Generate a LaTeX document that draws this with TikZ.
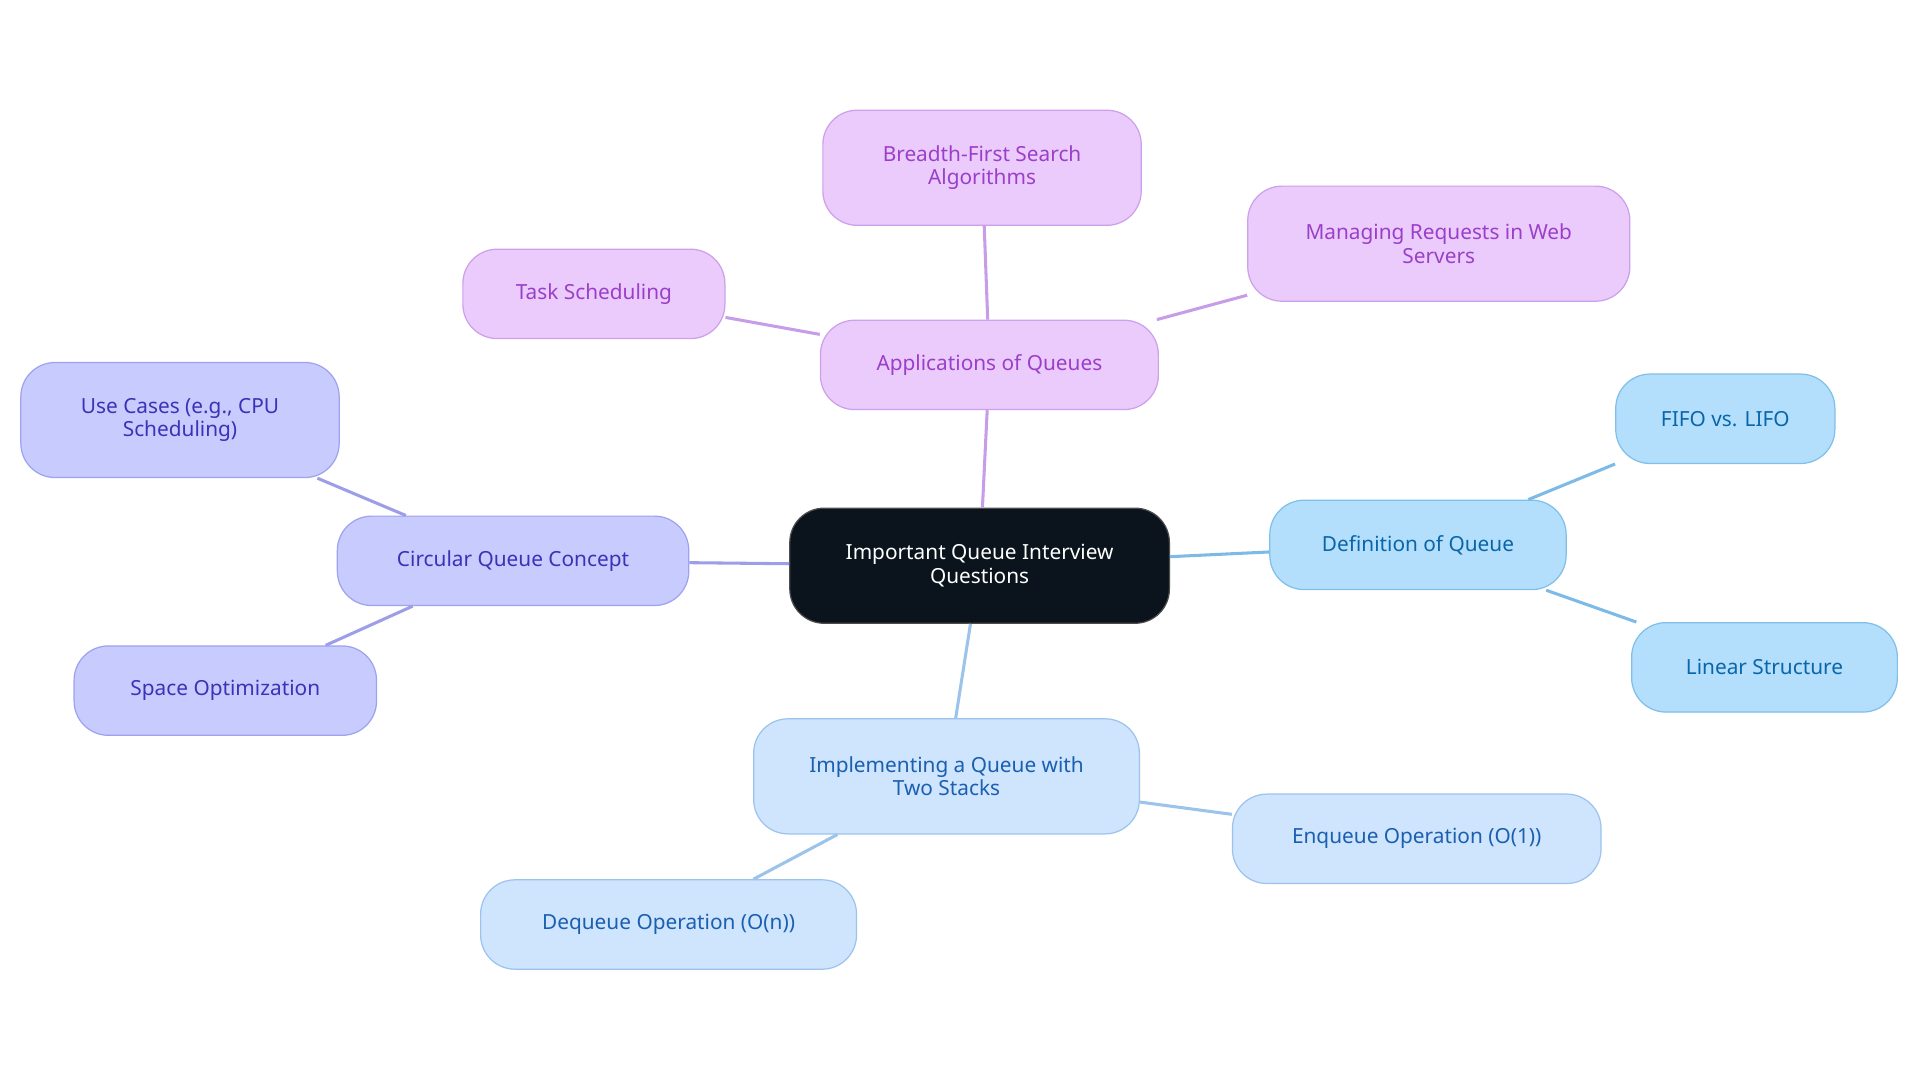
\documentclass[tikz,border=0pt]{standalone}
\usepackage{fontspec}
\setmainfont{Noto Sans}
\begin{document}
\begin{tikzpicture}[x=1pt,y=-1pt,
 b/.style={draw,line width=1pt,rounded corners=28pt,align=center,inner sep=0pt,font=\fontsize{17}{19}\selectfont},
 cen/.style={b,draw=black!70,text=white,fill={rgb,255:red,11;green,20;blue,28}},
 pu/.style={b,fill={rgb,255:red,234;green,203;blue,252},draw={rgb,255:red,204;green,160;blue,234},text={rgb,255:red,155;green,63;blue,201}},
 ind/.style={b,fill={rgb,255:red,200;green,203;blue,253},draw={rgb,255:red,158;green,163;blue,238},text={rgb,255:red,58;green,50;blue,184}},
 bl/.style={b,fill={rgb,255:red,179;green,223;blue,252},draw={rgb,255:red,127;green,191;blue,232},text={rgb,255:red,10;green,102;blue,168}},
 lb/.style={b,fill={rgb,255:red,207;green,228;blue,253},draw={rgb,255:red,156;green,195;blue,238},text={rgb,255:red,26;green,95;blue,176}},
 l/.style={line width=2.5pt}]
\useasboundingbox (0,0) rectangle (1568,884.5);
\tikzset{puc/.style={l,draw={rgb,255:red,199;green,157;blue,232}},
 inc/.style={l,draw={rgb,255:red,158;green,158;blue,232}},
 blc/.style={l,draw={rgb,255:red,125;green,187;blue,230}},
 lbc/.style={l,draw={rgb,255:red,156;green,195;blue,234}}}
\node[cen,minimum width=310pt,minimum height=94pt] (c) at (800,462) {Important Queue Interview\\Questions};
\node[pu,minimum width=276pt,minimum height=73pt] (app) at (808,298) {Applications of Queues};
\node[pu,minimum width=260pt,minimum height=94pt] (bfs) at (802,137) {Breadth-First Search\\Algorithms};
\node[pu,minimum width=312pt,minimum height=94pt] (web) at (1175,199) {Managing Requests in Web\\Servers};
\node[pu,minimum width=214pt,minimum height=73pt] (task) at (485,240) {Task Scheduling};
\node[ind,minimum width=287pt,minimum height=73pt] (circ) at (419,458) {Circular Queue Concept};
\node[ind,minimum width=260pt,minimum height=94pt] (use) at (147,343) {Use Cases (e.g., CPU\\Scheduling)};
\node[ind,minimum width=247pt,minimum height=73pt] (space) at (184,564) {Space Optimization};
\node[bl,minimum width=242pt,minimum height=73pt] (def) at (1158,445) {Definition of Queue};
\node[bl,minimum width=179pt,minimum height=73pt] (fifo) at (1409,342) {FIFO vs. LIFO};
\node[bl,minimum width=217pt,minimum height=73pt] (lin) at (1441,545) {Linear Structure};
\node[lb,minimum width=315pt,minimum height=94pt] (imp) at (773,634) {Implementing a Queue with\\Two Stacks};
\node[lb,minimum width=301pt,minimum height=73pt] (enq) at (1157,685) {Enqueue Operation (O(1))};
\node[lb,minimum width=307pt,minimum height=73pt] (deq) at (546,755) {Dequeue Operation (O(n))};
\draw[puc] (c) -- (app);
\draw[puc] (app) -- (bfs);
\draw[puc] (app) -- (web);
\draw[puc] (app) -- (task);
\draw[inc] (c) -- (circ);
\draw[inc] (circ) -- (use);
\draw[inc] (circ) -- (space);
\draw[blc] (c) -- (def);
\draw[blc] (def) -- (fifo);
\draw[blc] (def) -- (lin);
\draw[lbc] (c) -- (imp);
\draw[lbc] (imp) -- (enq);
\draw[lbc] (imp) -- (deq);
\end{tikzpicture}
\end{document}
